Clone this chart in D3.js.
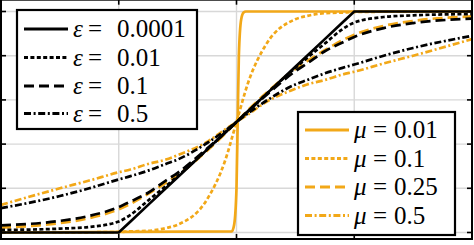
<!DOCTYPE html>
<html>
<head>
<meta charset="utf-8">
<script src="https://cdn.jsdelivr.net/npm/d3@7"></script>
<style>
  html, body { margin: 0; padding: 0; background: #fff; }
  svg { display: block; }
  .lg text { font-family: 'Liberation Serif', 'Times New Roman', 'DejaVu Serif', serif; font-size: 25px; }
</style>
</head>
<body>
<div class="chart"></div>
<script>
const xs = [-2, -1.5, -1.25, -1, -0.9, -0.75, -0.6, -0.5, -0.25, -0.1, 0,
            0.1, 0.25, 0.5, 0.6, 0.75, 0.9, 1, 1.25, 1.5, 2];

// black curves (epsilon)
const eps0001 = [-1, -1, -1, -1, -0.9, -0.75, -0.6, -0.5, -0.25, -0.1, 0,
                 0.1, 0.25, 0.5, 0.6, 0.75, 0.9, 1, 1, 1, 1];
const eps001 = [-0.977, -0.965, -0.95, -0.9, -0.84, -0.71, -0.58, -0.49, -0.25, -0.1, 0,
                0.1, 0.25, 0.49, 0.58, 0.71, 0.84, 0.9, 0.95, 0.965, 0.977];
const eps01 = [-0.935, -0.895, -0.85, -0.77, -0.72, -0.64, -0.53, -0.46, -0.24, -0.1, 0,
               0.1, 0.24, 0.46, 0.53, 0.64, 0.72, 0.77, 0.85, 0.895, 0.935];
const eps05 = [-0.78, -0.67, -0.6, -0.52, -0.49, -0.44, -0.38, -0.34, -0.19, -0.08, 0,
               0.08, 0.19, 0.34, 0.38, 0.44, 0.49, 0.52, 0.6, 0.67, 0.78];

// orange curves (mu)
const muSteepX = [-2, -0.04, -0.02, 0, 0.01, 0.02, 0.04, 0.06, 0.08, 2];
const mu001 = [-1, -0.99, -0.93, -0.6, 0, 0.6, 0.93, 0.99, 1, 1];
const mu01 = [-1, -1, -0.998, -0.995, -0.99, -0.985, -0.96, -0.93, -0.7, -0.36, 0,
              0.36, 0.7, 0.93, 0.96, 0.985, 0.99, 0.995, 0.998, 1, 1];
const mu025 = [-0.955, -0.915, -0.87, -0.79, -0.74, -0.65, -0.55, -0.48, -0.26, -0.11, 0,
               0.11, 0.26, 0.48, 0.55, 0.65, 0.74, 0.79, 0.87, 0.915, 0.955];
const mu05 = [-0.75, -0.6, -0.53, -0.455, -0.43, -0.38, -0.34, -0.3, -0.18, -0.07, 0,
              0.07, 0.18, 0.3, 0.34, 0.38, 0.43, 0.455, 0.53, 0.6, 0.75];

const epsLabels = ['0.0001', '0.01', '0.1', '0.5'];
const muLabels = ['0.01', '0.1', '0.25', '0.5'];
const xTicks = [-1, 0, 1];
const yTicks = [-1, -0.6, -0.2, 0.2, 0.6, 1];

const width = 474, height = 245;
const orange = '#f2a818';
const dashes = [null, '4,2.4', '10,5', '7,2.6,2,2.6'];

const svg = d3.select('.chart').append('svg')
    .attr('width', width)
    .attr('height', height);

const x = d3.scaleLinear().domain([-2, 2]).range([1, 472]);
const y = d3.scaleLinear().domain([-1, 1]).range([232.5, 11.5]);
const yTop = -0.3, yBottom = 239;

// grid
svg.append('g').selectAll('line').data(xTicks).enter().append('line')
    .attr('x1', d => x(d)).attr('x2', d => x(d))
    .attr('y1', yTop).attr('y2', yBottom)
    .attr('stroke', '#d8d8d8').attr('stroke-width', 1.4);
svg.append('g').selectAll('line').data(yTicks).enter().append('line')
    .attr('x1', x(-2)).attr('x2', x(2))
    .attr('y1', d => y(d)).attr('y2', d => y(d))
    .attr('stroke', '#d8d8d8').attr('stroke-width', 1.4);

const zip = (a, b) => a.map((v, i) => [v, b[i]]);
const line = d3.line().x(d => x(d[0])).y(d => y(d[1]));

const orangeSeries = [zip(muSteepX, mu001), zip(xs, mu01), zip(xs, mu025), zip(xs, mu05)];
const blackSeries = [zip(xs, eps0001), zip(xs, eps001), zip(xs, eps01), zip(xs, eps05)];

const plot = svg.append('g');
orangeSeries.forEach((s, i) => {
    plot.append('path').attr('d', line.curve(d3.curveMonotoneX)(s))
        .attr('fill', 'none').attr('stroke', orange).attr('stroke-width', 2.7)
        .attr('stroke-dasharray', dashes[i]);
});
blackSeries.forEach((s, i) => {
    const l = i === 0 ? line.curve(d3.curveLinear)(s) : line.curve(d3.curveMonotoneX)(s);
    plot.append('path').attr('d', l)
        .attr('fill', 'none').attr('stroke', '#000').attr('stroke-width', 2.7)
        .attr('stroke-dasharray', dashes[i]);
});

// frame + inward ticks
svg.append('rect')
    .attr('x', x(-2)).attr('y', yTop)
    .attr('width', x(2) - x(-2)).attr('height', yBottom - yTop)
    .attr('fill', 'none').attr('stroke', '#000').attr('stroke-width', 2);
const tk = svg.append('g').attr('stroke', '#000').attr('stroke-width', 1.6);
xTicks.forEach(t => {
    tk.append('line').attr('x1', x(t)).attr('x2', x(t)).attr('y1', yTop).attr('y2', yTop + 5);
    tk.append('line').attr('x1', x(t)).attr('x2', x(t)).attr('y1', yBottom).attr('y2', yBottom - 5);
});
yTicks.forEach(t => {
    tk.append('line').attr('x1', x(-2)).attr('x2', x(-2) + 5).attr('y1', y(t)).attr('y2', y(t));
    tk.append('line').attr('x1', x(2)).attr('x2', x(2) - 5).attr('y1', y(t)).attr('y2', y(t));
});

// legends
function legend(box, rows, labels, sym, color, symX, eqX, numX) {
    const g = svg.append('g').attr('class', 'lg');
    g.append('rect').attr('x', box[0]).attr('y', box[1])
        .attr('width', box[2]).attr('height', box[3])
        .attr('fill', '#fff').attr('stroke', '#000').attr('stroke-width', 2.2);
    labels.forEach((lab, i) => {
        const cy = rows[i];
        g.append('line').attr('x1', box[0] + 7).attr('x2', box[0] + 51)
            .attr('y1', cy).attr('y2', cy)
            .attr('stroke', color).attr('stroke-width', 2.8)
            .attr('stroke-dasharray', dashes[i]);
        const t = g.append('text').attr('y', cy + 8).attr('fill', '#000');
        t.append('tspan').attr('x', symX).attr('font-style', 'italic').text(sym);
        t.append('tspan').attr('x', eqX).text('=');
        t.append('tspan').attr('x', numX).text(lab);
    });
}
legend([17, 10, 180, 119], [29, 57.5, 86, 113.5], epsLabels, 'ε', '#000', 73, 88, 117);
legend([298, 112, 157, 123], [130, 158.5, 187, 215.5], muLabels, 'μ', orange, 354, 373, 394);
</script>
</body>
</html>
